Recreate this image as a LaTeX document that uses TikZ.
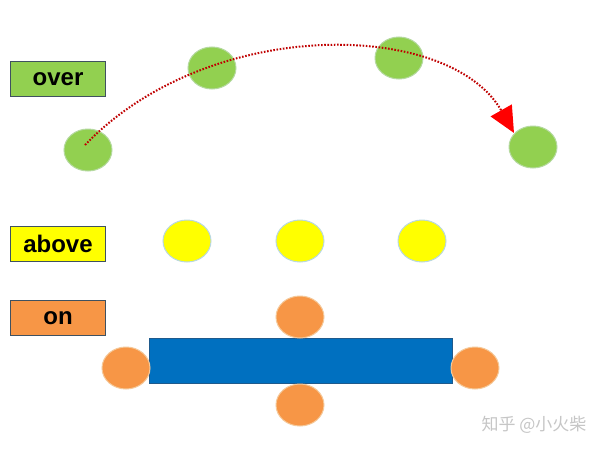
\documentclass[tikz,border=0pt]{standalone}
\usepackage{fontspec}
\setmainfont{Liberation Sans}
\newfontfamily\cjk{Noto Sans CJK SC}
\usetikzlibrary{arrows.meta,shapes.geometric}
\definecolor{gr}{HTML}{92D050}
\definecolor{grb}{HTML}{B5D9A0}
\definecolor{ye}{HTML}{FFFF00}
\definecolor{yeb}{HTML}{B9D8E0}
\definecolor{orn}{HTML}{F79646}
\definecolor{ornb}{HTML}{F5C99A}
\definecolor{bl}{HTML}{0070C0}
\definecolor{blb}{HTML}{1F5A8C}
\definecolor{lbb}{HTML}{3F5160}
\definecolor{dr}{HTML}{C00000}
\begin{document}
\begin{tikzpicture}[x=1pt,y=-1pt,
  lbl/.style={draw=lbb,line width=1.5pt,minimum width=95pt,minimum height=35pt,inner sep=0pt,font=\fontsize{24}{26}\selectfont\bfseries},
  ball/.style={ellipse,minimum width=48pt,minimum height=42pt,inner sep=0pt,line width=1pt},
  gball/.style={ball,fill=gr,draw=grb},
  yball/.style={ball,fill=ye,draw=yeb},
  oball/.style={ball,fill=orn,draw=ornb}]
\useasboundingbox (0,0) rectangle (600,450);
\fill[white] (0,0) rectangle (600,450);
% labels
\node[lbl,fill=gr] (lover) at (58,79) {over};
\node[lbl,fill=ye] (labove) at (58,244) {above};
\node[lbl,fill=orn] (lon) at (58,318) {on};
% over balls
\node[gball] (g1) at (88,150) {};
\node[gball] (g2) at (212,68) {};
\node[gball] (g3) at (399,58) {};
\node[gball] (g4) at (533,147) {};
% above balls
\node[yball] (y1) at (187,241) {};
\node[yball] (y2) at (300,241) {};
\node[yball] (y3) at (422,241) {};
% table
\node[draw=blb,fill=bl,line width=1pt,minimum width=303pt,minimum height=45pt,inner sep=0pt] (tab) at (300.5,360.5) {};
\node[oball] (o1) at (300,317) {};
\node[oball] (o2) at (126,368) {};
\node[oball] (o3) at (475,368) {};
\node[oball] (o4) at (300,405) {};
% arc
\coordinate (s) at (85,145);
\coordinate (e) at (514,133);
\draw[dr,line width=2pt,dash pattern=on 1.6pt off 1.6pt,-{Triangle[length=26pt,width=24pt,fill=red,color=red]}] (s) .. controls (210,15) and (450,20) .. (e);
% watermark
\node[text=gray!45,font=\cjk\fontsize{17}{19}\selectfont,anchor=west] (wm) at (478,425) {知乎 @小火柴};
\end{tikzpicture}
\end{document}
